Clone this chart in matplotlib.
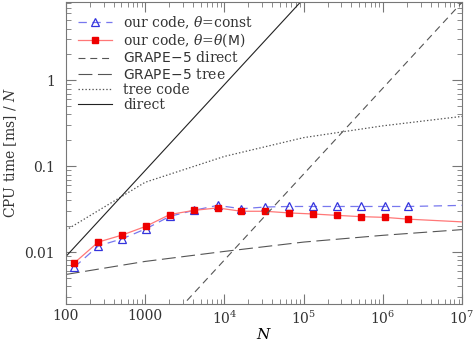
import numpy as np
import matplotlib
matplotlib.use("Agg")
import matplotlib.pyplot as plt

plt.rcParams['font.family'] = 'DejaVu Serif'
plt.rcParams['mathtext.fontset'] = 'dejavuserif'
plt.rcParams['lines.scale_dashes'] = False

# particle numbers of the measured runs (last entry: end of the fit line)
n_runs = [128, 256, 512, 1024, 2048, 4096, 8192, 16384, 32768, 65536,
          131072, 262144, 524288, 1048576, 2097152, 1e7]
t_const = [0.0067, 0.0118, 0.0143, 0.0187, 0.0261, 0.0306, 0.035, 0.032,
           0.0335, 0.034, 0.034, 0.034, 0.034, 0.034, 0.034, 0.035]
t_theta_m = [0.0075, 0.0131, 0.0158, 0.020, 0.0274, 0.0306, 0.0327, 0.0299,
             0.0299, 0.0286, 0.0278, 0.0268, 0.0259, 0.0254, 0.0242, 0.0225]

# model curves
n_model = [100, 1e3, 1e4, 1e5, 1e6, 1e7]
t_g5_tree = [0.0055, 0.0078, 0.0102, 0.0131, 0.0157, 0.0183]
t_tree = [0.018, 0.065, 0.130, 0.215, 0.295, 0.38]
n_line = [100, 1e7]
t_g5_direct = [8.1e-5, 8.1]
t_direct = [8.9e-3, 890.0]

grey = '#555555'

fig, ax = plt.subplots(figsize=(4.74, 3.43), dpi=100)
fig.subplots_adjust(left=0.139, right=0.975, bottom=0.114, top=0.995)

ax.plot(n_runs, t_const, color='#7777ee', ls=(0, (6, 4)), lw=0.9,
        marker='^', ms=5.5, mfc='none', mec='#3333dd', mew=0.9,
        markevery=slice(0, 15), label=r'our code, $\theta$=const')
ax.plot(n_runs, t_theta_m, color='#ff7777', ls='-', lw=0.9,
        marker='s', ms=5, mfc='#ee0000', mec='#ee0000',
        markevery=slice(0, 15), label=r'our code, $\theta$=$\theta(\mathsf{M})$')
ax.plot(n_line, t_g5_direct, color=grey, ls=(0, (5, 3.5)), lw=0.8,
        label=r'$\mathsf{GRAPE\!-\!5}$ direct')
ax.plot(n_model, t_g5_tree, color=grey, ls=(0, (10, 4)), lw=0.8,
        label=r'$\mathsf{GRAPE\!-\!5}$ tree')
ax.plot(n_model, t_tree, color=grey, ls=(0, (1, 1.5)), lw=0.9,
        label='tree code')
ax.plot(n_line, t_direct, color='#222222', ls='-', lw=0.8, label='direct')

ax.set_xscale('log')
ax.set_yscale('log')
ax.set_xlim(100, 1e7)
ax.set_ylim(0.0025, 8.2)

ax.set_xticks([100, 1000, 1e4, 1e5, 1e6, 1e7])
ax.set_xticklabels(['100', '1000', r'10$^4$', r'10$^5$', r'10$^6$', r'10$^7$'])
ax.set_yticks([0.01, 0.1, 1])
ax.set_yticklabels(['0.01', '0.1', '1'])

for s in ax.spines.values():
    s.set_color('#777777')
ax.tick_params(which='both', direction='in', top=True, right=True,
               color='#777777', labelsize=10, labelcolor='#333333')
ax.tick_params(which='major', length=7)
ax.tick_params(axis='x', which='major', pad=4)
ax.tick_params(axis='y', which='major', pad=8)
ax.tick_params(which='minor', length=3.5)

ax.set_xlabel(r'$N$', fontsize=11, labelpad=0)
ax.set_ylabel(r'CPU time [ms] / $N$', fontsize=10, color='#333333')

leg = ax.legend(loc='upper left', frameon=False, fontsize=10, numpoints=1,
                handlelength=2.4, handletextpad=0.8, labelspacing=0.08,
                borderaxespad=0.5)
for t in leg.get_texts():
    t.set_color('#333333')

fig.savefig('out.png', dpi=100)
